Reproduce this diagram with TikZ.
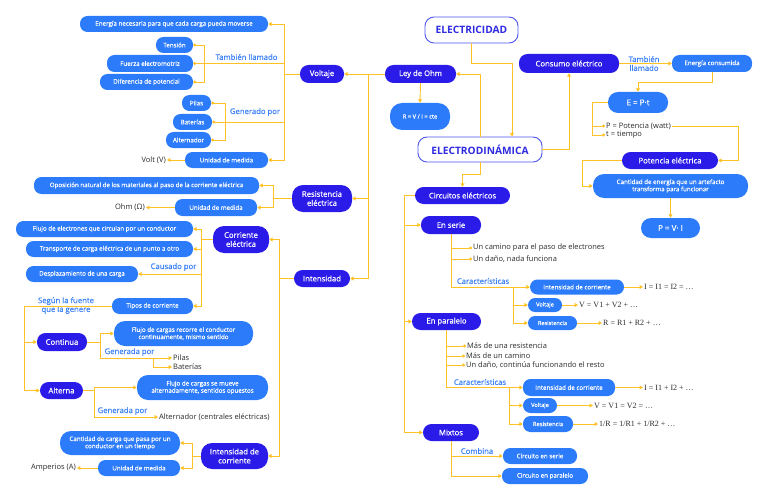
\documentclass[tikz,border=0pt]{standalone}
\usepackage{fontspec}
\setmainfont{Open Sans}
\newfontface\med{Open Sans}[FakeBold=0.6]
\newfontfamily\frmfont{Liberation Serif}
\usetikzlibrary{arrows.meta}
\definecolor{dkb}{HTML}{2A1BE8}
\definecolor{ltb}{HTML}{2B7BFA}
\definecolor{org}{HTML}{FFC226}
\definecolor{lbl}{HTML}{3F84F7}
\definecolor{wbord}{HTML}{4D57EE}
\definecolor{wtxt}{HTML}{2F2BE0}
\definecolor{txtc}{HTML}{2B2B2B}
\begin{document}
\begin{tikzpicture}[x=1pt,y=-1pt,
 base/.style={inner sep=1pt, align=center, text=white},
 lt/.style={base, fill=ltb, font=\med\fontsize{6.2}{7.2}\selectfont, rounded corners=7.5pt},
 dk/.style={base, fill=dkb, font=\med\fontsize{7.7}{9}\selectfont, rounded corners=8.5pt},
 wh/.style={base, fill=white, draw=wbord, line width=0.9pt, text=wtxt, font=\fontsize{10.2}{11}\selectfont\bfseries, rounded corners=9pt},
 txt/.style={inner sep=1pt, text=txtc, font=\fontsize{7.5}{8}\selectfont},
 frm/.style={inner sep=1pt, text=txtc, font=\frmfont\fontsize{8}{9}\selectfont},
 lab/.style={inner sep=0pt, align=center, text=lbl, font=\med\fontsize{7.7}{8.8}\selectfont},
 ln/.style={draw=org, line width=0.9pt},
 arr/.style={ln, -{Triangle[length=3.4pt,width=3.8pt]}},
 dot/.style={ln, -{Circle[length=3pt]}},
]
\fill[white] (0,0) rectangle (768,500);
\useasboundingbox (0,0) rectangle (768,500);

% ---- centre / top
\node[wh, minimum width=93pt, minimum height=26pt] (elec) at (471.5,30) {ELECTRICIDAD};
\node[wh, minimum width=124pt, minimum height=25pt] (elecd) at (480,149.5) {ELECTRODINÁMICA};
\node[dk, minimum width=71pt, minimum height=18pt] (ley) at (420.5,74) {Ley de Ohm};
\node[lt, minimum width=60pt, minimum height=27pt, rounded corners=12pt, font=\med\fontsize{5.8}{6.8}\selectfont] (rvi) at (420,116.5) {R = V / I = cte};
\node[dk, minimum width=44pt, minimum height=18pt] (volt) at (322,74) {Voltaje};
\node[dk, minimum width=60pt, minimum height=27pt, rounded corners=11pt] (resist) at (322,198.5) {Resistencia\\eléctrica};
\node[dk, minimum width=56pt, minimum height=17pt] (intens) at (322,278.5) {Intensidad};

% ---- voltaje branch
\node[lt, minimum width=188pt, minimum height=16pt] (energ) at (174,24) {Energía necesaria para que cada carga pueda moverse};
\node[lt, minimum width=37pt, minimum height=16pt] (tension) at (174.5,45) {Tensión};
\node[lt, minimum width=86pt, minimum height=17pt] (fuerza) at (150,63.5) {Fuerza electromotriz};
\node[lt, minimum width=93pt, minimum height=16pt] (difer) at (146.5,82) {Diferencia de potencial};
\node[lt, minimum width=29pt, minimum height=16pt] (pilas) at (196.5,103) {Pilas};
\node[lt, minimum width=39pt, minimum height=16pt] (bater) at (192.5,122) {Baterías};
\node[lt, minimum width=45pt, minimum height=16pt] (altern) at (188.5,140) {Alternador};
\node[lt, minimum width=83pt, minimum height=16pt] (unidV) at (226.5,160) {Unidad de medida};
\node[txt, anchor=east] (voltT) at (167,160) {Volt (V)};

% ---- resistencia branch
\node[lt, minimum width=225pt, minimum height=17pt] (opos) at (146.5,185.5) {Oposición natural de los materiales al paso de la corriente eléctrica};
\node[lt, minimum width=82pt, minimum height=17pt] (unidO) at (216,207.5) {Unidad de medida};
\node[txt, anchor=east] (ohmT) at (146,207.5) {Ohm (Ω)};

% ---- corriente branch
\node[dk, minimum width=56pt, minimum height=27pt, rounded corners=11pt] (corr) at (241,239.5) {Corriente\\eléctrica};
\node[lt, minimum width=177pt, minimum height=16pt] (flujoE) at (104.5,229) {Flujo de electrones que circulan por un conductor};
\node[lt, minimum width=167pt, minimum height=16pt] (transp) at (109.5,249) {Transporte de carga eléctrica de un punto a otro};
\node[lt, minimum width=112pt, minimum height=16pt] (despl) at (82,274) {Desplazamiento de una carga};
\node[lt, minimum width=81pt, minimum height=16pt] (tipos) at (152.5,306) {Tipos de corriente};
\node[dk, minimum width=50pt, minimum height=18pt] (cont) at (62,342) {Continua};
\node[lt, minimum width=139pt, minimum height=25pt, rounded corners=11pt] (flujoC) at (183.5,333.5) {Flujo de cargas recorre el conductor\\continuamente, mismo sentido};
\node[txt, anchor=west] (pilasT) at (172,358) {Pilas};
\node[txt, anchor=west] (batT) at (172,367) {Baterías};
\node[dk, minimum width=43pt, minimum height=17pt] (alt) at (61.5,390.5) {Alterna};
\node[lt, minimum width=131pt, minimum height=25pt, rounded corners=11pt] (flujoA) at (202.5,387.5) {Flujo de cargas se mueve\\alternadamente, sentidos opuestos};
\node[txt, anchor=west] (altT) at (158,417) {Alternador (centrales eléctricas)};
\node[dk, minimum width=67pt, minimum height=26pt, rounded corners=11pt] (intC) at (234.5,456) {Intensidad de\\corriente};
\node[lt, minimum width=120pt, minimum height=24pt, rounded corners=11pt] (cantC) at (120,443) {Cantidad de carga que pasa por un\\conductor en un tiempo};
\node[lt, minimum width=82pt, minimum height=16pt] (unidA) at (139,468) {Unidad de medida};
\node[txt, anchor=east] (ampT) at (77,468) {Amperios (A)};

% ---- consumo branch
\node[dk, minimum width=100pt, minimum height=19pt] (cons) at (569,63.5) {Consumo eléctrico};
\node[lt, minimum width=80pt, minimum height=17pt] (econs) at (712,63.5) {Energía consumida};
\node[lt, minimum width=60pt, minimum height=21pt, rounded corners=10pt, font=\med\fontsize{8}{9}\selectfont] (ept) at (638,102.5) {E = P·t};
\node[txt, anchor=west] (pp) at (605,126) {P = Potencia (watt)};
\node[txt, anchor=west] (tt) at (605,135) {t = tiempo};
\node[dk, minimum width=96pt, minimum height=17pt] (pot) at (670,160.5) {Potencia eléctrica};
\node[lt, minimum width=155pt, minimum height=24pt, rounded corners=11pt] (cantE) at (670.5,186) {Cantidad de energía que un artefacto\\transforma para funcionar};
\node[lt, minimum width=59pt, minimum height=20pt, rounded corners=10pt, font=\med\fontsize{8}{9}\selectfont] (pvi) at (670.5,228) {P = V· I};

% ---- circuitos branch
\node[dk, minimum width=95pt, minimum height=17pt] (circ) at (462.5,195.5) {Circuitos eléctricos};
\node[dk, minimum width=60pt, minimum height=18pt] (serie) at (451,225) {En serie};
\node[txt, anchor=west] (s1) at (472,248) {Un camino para el paso de electrones};
\node[txt, anchor=west] (s2) at (472,259) {Un daño, nada funciona};
\node[lt, minimum width=94pt, minimum height=15pt] (intS) at (577,287) {Intensidad de corriente};
\node[lt, minimum width=34pt, minimum height=14pt, rounded corners=7pt, font=\med\fontsize{5.6}{6.5}\selectfont] (volS) at (545,305) {Voltaje};
\node[lt, minimum width=49pt, minimum height=14pt, rounded corners=7pt, font=\med\fontsize{5.6}{6.5}\selectfont] (resS) at (552.5,323) {Resistencia};
\node[frm, anchor=west] (fIS) at (643,287) {I = I1 = I2 = …};
\node[frm, anchor=west] (fVS) at (578,305) {V = V1 + V2 + …};
\node[frm, anchor=west] (fRS) at (602,323) {R = R1 + R2 + …};
\node[dk, minimum width=69pt, minimum height=17pt] (para) at (446.5,321.5) {En paralelo};
\node[txt, anchor=west] (p1) at (466,346) {Más de una resistencia};
\node[txt, anchor=west] (p2) at (465,356) {Más de un camino};
\node[txt, anchor=west] (p3) at (465,365) {Un daño, continúa funcionando el resto};
\node[lt, minimum width=92pt, minimum height=17pt] (intP) at (569,387.5) {Intensidad de corriente};
\node[lt, minimum width=34pt, minimum height=15pt, font=\med\fontsize{5.6}{6.5}\selectfont] (volP) at (540,405.5) {Voltaje};
\node[lt, minimum width=50pt, minimum height=16pt, font=\med\fontsize{5.8}{6.5}\selectfont] (resP) at (548,424) {Resistencia};
\node[frm, anchor=west] (fIP) at (643,387.5) {I = I1 + I2 + …};
\node[frm, anchor=west] (fVP) at (593,405.5) {V = V1 = V2 = …};
\node[frm, anchor=west] (fRP) at (598,424) {1/R = 1/R1 + 1/R2 + …};
\node[dk, minimum width=56pt, minimum height=17pt] (mix) at (451,432.5) {Mixtos};
\node[lt, minimum width=74pt, minimum height=16pt] (cser) at (540,456) {Circuito en serie};
\node[lt, minimum width=86pt, minimum height=16pt] (cpar) at (545,476) {Circuito en paralelo};

% ---- labels
\node[lab] (lb1) at (246.5,57) {También llamado};
\node[lab] (lb2) at (255,112) {Generado por};
\node[lab] (lb3) at (173.5,267) {Causado por};
\node[lab] (lb4) at (66,305.5) {Según la fuente\\que la genere};
\node[lab] (lb5) at (129.5,352) {Generada por};
\node[lab] (lb6) at (122.5,411) {Generada por};
\node[lab] (lb7) at (644,63.5) {También\\llamado};
\node[lab] (lb8) at (483,281) {Características};
\node[lab] (lb9) at (480,382) {Características};
\node[lab] (lb10) at (477,451) {Combina};

% ---- connectors: top
\coordinate (k1) at (512,63);
\draw[arr] (elec.south) |- (k1) -- (k1 |- elecd.north);
\draw[arr] (elecd.north) |- (ley.east);
\draw[arr] (elecd.east) -| (cons.south);
\draw[arr] (cons.east) -- (econs.west);
\draw[arr] (econs.south) -- ++(0,10) -| (ept.north);
\coordinate (k6) at (592,102.5);
\draw[ln] (ept.west) -- (k6) -- (k6 |- tt.west);
\draw[dot] (k6 |- pp.west) -- (pp.west);
\draw[dot] (k6 |- tt.west) -- (tt.west);
\coordinate (k7) at (738,0);
\draw[arr] (pp.east) -- (pp.east -| k7) |- (pot.east);
\coordinate (k8) at (582,0);
\draw[arr] (pot.west) -- (pot.west -| k8) |- (cantE.west);
\draw[arr] (cantE.south) -- (pvi.north);

% ---- circuitos
\draw[arr] (elecd.south) |- ([yshift=12pt]circ.north) -- (circ.north);
\coordinate (k11) at (404,195.5);
\draw[arr] (circ.west) -- (k11) |- (mix.west);
\draw[arr] (k11 |- serie.west) -- (serie.west);
\draw[arr] (k11 |- para.west) -- (para.west);
\draw[arr] (serie.south) |- (intS.west);
\draw[dot] (serie.south |- s1.west) -- (s1.west);
\draw[dot] (serie.south |- s2.west) -- (s2.west);
\coordinate (k12) at (513,287);
\draw[arr] (k12) |- (resS.west);
\draw[arr] (k12 |- volS.west) -- (volS.west);
\draw[arr] (intS.east) -- (fIS.west);
\draw[arr] (volS.east) -- (fVS.west);
\draw[arr] (resS.east) -- (fRS.west);
\draw[arr] (para.south) |- (intP.west);
\draw[dot] (para.south |- p1.west) -- (p1.west);
\draw[dot] (para.south |- p2.west) -- (p2.west);
\draw[dot] (para.south |- p3.west) -- (p3.west);
\coordinate (k13) at (509,387.5);
\draw[arr] (k13) |- (resP.west);
\draw[arr] (k13 |- volP.west) -- (volP.west);
\draw[arr] (intP.east) -- (fIP.west);
\draw[arr] (volP.east) -- (fVP.west);
\draw[arr] (resP.east) -- (fRP.west);
\draw[arr] (mix.south) |- (cpar.west);
\draw[arr] (mix.south |- cser.west) -- (cser.west);

% ---- left
\draw[arr] (ley.west) -- (volt.east);
\coordinate (k15) at (368,74);
\draw[arr] (k15) |- (intens.east);
\draw[arr] (k15 |- resist.east) -- (resist.east);
\draw[arr] (ley.south) -- (rvi.north);
\coordinate (k17) at (284,74);
\draw[ln] (volt.west) -- (k17);
\draw[arr] (k17) |- (energ.east);
\draw[arr] (k17) |- (unidV.east);
\draw[dot] (k17 |- fuerza.east) -- (fuerza.east);
\coordinate (k17b) at (204,63.5);
\draw[dot] (k17b) |- (tension.east);
\draw[dot] (k17b) |- (difer.east);
\draw[dot] (k17 |- bater.east) -- (bater.east);
\coordinate (k17c) at (225,122);
\draw[dot] (k17c) |- (pilas.east);
\draw[dot] (k17c) |- (altern.east);
\draw[arr] (unidV.west) -- (voltT.east);
\coordinate (k18) at (273,198.5);
\draw[ln] (resist.west) -- (k18);
\draw[arr] (k18) |- (opos.east);
\draw[arr] (k18) |- (unidO.east);
\draw[arr] (unidO.west) -- (ohmT.east);
\coordinate (k19) at (279,278.5);
\draw[ln] (intens.west) -- (k19);
\draw[arr] (k19) |- (corr.east);
\draw[arr] (k19) |- (intC.east);
\coordinate (k20) at (201,239.5);
\draw[ln] (corr.west) -- (k20);
\draw[arr] (k20) |- (flujoE.east);
\draw[arr] (k20) |- (tipos.east);
\draw[arr] (k20 |- transp.east) -- (transp.east);
\draw[arr] (k20 |- despl.east) -- (despl.east);
\coordinate (k21) at (24,306);
\draw[arr] (tipos.west) -- (k21) |- (alt.west);
\draw[arr] (k21 |- cont.west) -- (cont.west);
\coordinate (k22) at (100,342);
\draw[arr] (cont.east) -- (k22) |- (flujoC.west);
\coordinate (k22b) at (153,358);
\draw[ln] (k22) |- (k22b);
\draw[arr] (k22b) -- (pilasT.west);
\draw[arr] (k22b) |- (batT.west);
\coordinate (k23) at (94,390.5);
\draw[arr] (alt.east) -- (k23) |- (flujoA.west);
\draw[arr] (k23) |- (altT.west);
\coordinate (k24) at (192,456);
\draw[ln] (intC.west) -- (k24);
\draw[arr] (k24) |- (cantC.east);
\draw[arr] (k24) |- (unidA.east);
\draw[arr] (unidA.west) -- (ampT.east);
\end{tikzpicture}
\end{document}
